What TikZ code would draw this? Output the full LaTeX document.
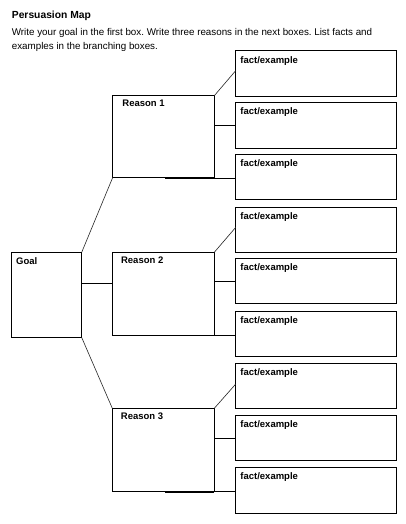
\documentclass[tikz,border=0pt]{standalone}
\usepackage{fontspec}
\setmainfont{Liberation Sans}
\begin{document}
\frenchspacing
\begin{tikzpicture}[x=1bp,y=-1bp,
  box/.style={draw=black,line width=0.9bp,inner sep=0pt,outer sep=0pt,anchor=north west,rectangle},
  factbox/.style={box,minimum width=161bp,minimum height=45.5bp},
  lbl/.style={inner sep=0pt,anchor=base west,font=\fontsize{9.5bp}{11bp}\selectfont\bfseries},
  ins/.style={inner sep=0pt,anchor=base west,font=\fontsize{9.8bp}{11bp}\selectfont},
  conn/.style={draw=black,line width=0.8bp},
  diag/.style={draw=black!85,line width=0.6bp},
  thickseg/.style={draw=black,line width=2bp}]
\useasboundingbox (0,0) rectangle (405,524);
\fill[white] (0,0) rectangle (405,524);
% title and instructions
\node[inner sep=0pt,anchor=base west,font=\fontsize{10.3bp}{12bp}\selectfont\bfseries] (title) at (11.7,18.3) {Persuasion Map};
\node[ins] (ins1) at (11.7,36) {Write your goal in the first box. Write three reasons in the next boxes. List facts and};
\node[ins] (ins2) at (11.7,49.5) {examples in the branching boxes.};
% goal and reasons
\node[box,minimum width=70bp,minimum height=85.2bp] (g) at (11.7,252.3) {};
\node[box,minimum width=101.6bp,minimum height=81.8bp] (r1) at (112.7,95.7) {};
\node[box,minimum width=101.8bp,minimum height=82.7bp] (r2) at (112.5,252.3) {};
\node[box,minimum width=102bp,minimum height=82.7bp] (r3) at (112.3,408.3) {};
% fact boxes
\node[factbox] (f1) at (235.7,50.9) {};
\node[factbox] (f2) at (235.7,102.7) {};
\node[factbox] (f3) at (235.7,154.3) {};
\node[factbox] (f4) at (235.7,207.3) {};
\node[factbox] (f5) at (235.7,258.3) {};
\node[factbox] (f6) at (235.7,311.2) {};
\node[factbox] (f7) at (235.7,363.3) {};
\node[factbox] (f8) at (235.7,415.3) {};
\node[factbox] (f9) at (235.7,467.5) {};
% labels
\node[lbl] (gl) at ([xshift=4.3bp,yshift=-12bp]g.north west) {Goal};
\node[lbl] (r1l) at ([xshift=9.5bp,yshift=-11bp]r1.north west) {Reason 1};
\node[lbl] (r2l) at ([xshift=8.4bp,yshift=-11bp]r2.north west) {Reason 2};
\node[lbl] (r3l) at ([xshift=8.4bp,yshift=-11bp]r3.north west) {Reason 3};
\foreach \f in {f1,f2,f3,f4,f5,f6,f7,f8,f9}{
  \node[lbl] (\f l) at ([xshift=4.5bp,yshift=-12.3bp]\f.north west) {fact/example};
}
% goal connectors
\draw[diag] (g.north east) -- (r1.south west);
\draw[conn] ([yshift=11.6bp]g.east) -- ([yshift=11.6bp]g.east -| r2.west);
\draw[diag] (g.south east) -- (r3.north west);
% reason 1 connectors
\draw[diag] (r1.north east) -- ([yshift=3bp]f1.west);
\draw[conn] (f2.west -| r1.east) -- (f2.west);
\draw[conn] ([yshift=-0.6bp]r1.south east) -- ([yshift=-0.6bp]r1.south east -| f3.west);
\draw[thickseg] ([xshift=-49bp,yshift=-0.6bp]r1.south east) -- ([yshift=-0.6bp]r1.south east);
% reason 2 connectors
\draw[diag] (r2.north east) -- ([yshift=2.7bp]f4.west);
\draw[conn] (f5.west -| r2.east) -- (f5.west);
\draw[conn] (r2.south east) -- (r2.south east -| f6.west);
% reason 3 connectors
\draw[diag] (r3.north east) -- ([yshift=2bp]f7.west);
\draw[conn] (f8.west -| r3.east) -- (f8.west);
\draw[conn] ([yshift=-0.8bp]r3.south east) -- ([yshift=-0.8bp]r3.south east -| f9.west);
\draw[thickseg] ([xshift=-49bp,yshift=-0.6bp]r3.south east) -- ([yshift=-0.6bp]r3.south east);
\end{tikzpicture}
\end{document}
